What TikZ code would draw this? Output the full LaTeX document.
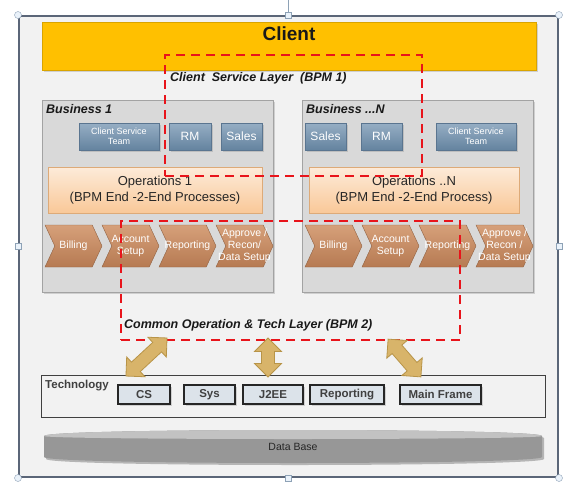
\documentclass[tikz,border=0pt]{standalone}
\usepackage{fontspec}
\setmainfont{Liberation Sans}
\usetikzlibrary{shapes.symbols,shapes.arrows,shadows}

\definecolor{rahmenblau}{HTML}{5B6678}
\definecolor{rahmenfill}{HTML}{F2F2F2}
\definecolor{clientgelb}{HTML}{FFC000}
\definecolor{clientrand}{HTML}{D9A400}
\definecolor{bizgrau}{HTML}{D9D9D9}
\definecolor{bizrand}{HTML}{A3A3A3}
\definecolor{blauoben}{HTML}{96AEC4}
\definecolor{blauunten}{HTML}{64839F}
\definecolor{blaurand}{HTML}{5A7590}
\definecolor{opsoben}{HTML}{FDEBD9}
\definecolor{opsunten}{HTML}{F9C898}
\definecolor{opsrand}{HTML}{DDAA78}
\definecolor{chevoben}{HTML}{D6A07A}
\definecolor{chevunten}{HTML}{B67A52}
\definecolor{layerrot}{HTML}{E8141B}
\definecolor{pfeilfill}{HTML}{D8B46A}
\definecolor{pfeilrand}{HTML}{B89448}
\definecolor{techitem}{HTML}{DCE3EA}
\definecolor{techtext}{HTML}{404040}
\definecolor{dbgrau}{HTML}{979797}
\definecolor{dbhell}{HTML}{C2C2C2}
\definecolor{griffrand}{HTML}{8EA2B6}
\definecolor{grifffill}{HTML}{EAF2FA}

\tikzset{
  fixbox/.style={inner sep=0pt, align=center},
  schatten/.style={drop shadow={opacity=0.3, shadow xshift=1.5pt, shadow yshift=-1.5pt}},
  rahmen/.style={fixbox, draw=rahmenblau, fill=rahmenfill, line width=2pt},
  griffkreis/.style={circle, draw=griffrand, fill=grifffill, inner sep=0pt, minimum size=7pt},
  griffquad/.style={rectangle, draw=griffrand, fill=grifffill, inner sep=0pt, minimum size=6pt},
  clientbar/.style={fixbox, draw=clientrand, fill=clientgelb, schatten},
  bizbox/.style={fixbox, draw=bizrand, fill=bizgrau, line width=1pt, schatten},
  teambox/.style={fixbox, draw=blaurand, top color=blauoben, bottom color=blauunten, text=white, minimum height=27pt, schatten},
  opsbox/.style={fixbox, draw=opsrand, top color=opsoben, bottom color=opsunten, minimum width=214pt, minimum height=46pt,
    font=\fontsize{13}{16}\selectfont, text=black!85},
  chevron/.style={signal, signal from=west, signal to=east, signal pointer angle=130, align=center,
    inner ysep=0pt, inner xsep=-10pt, draw=chevunten!80!black,
    top color=chevoben, bottom color=chevunten, text=white, minimum width=57pt, minimum height=42pt,
    font=\fontsize{10.5}{12}\selectfont},
  titel/.style={anchor=west, inner sep=0pt, font=\fontsize{12.5}{14}\selectfont\bfseries\itshape, text=black!90},
  layerbox/.style={fixbox, draw=layerrot, line width=2.2pt, dash pattern=on 9pt off 6pt},
  techbox/.style={fixbox, draw=black!75, fill=rahmenfill, line width=1pt},
  techteil/.style={fixbox, draw=black!85, fill=techitem, line width=1.2pt, minimum height=19pt,
    font=\fontsize{11.5}{13}\selectfont\bfseries, text=techtext, schatten},
  pfeil/.style={double arrow, draw=pfeilrand, fill=pfeilfill, line width=0.8pt, inner xsep=0pt, inner ysep=6pt,
    minimum width=27pt, double arrow head extend=7pt, sloped}
}

\begin{document}
\begin{tikzpicture}[x=1pt, y=-1pt]
  \useasboundingbox (0,0) rectangle (575,490);

  % Rahmen mit Anfassern
  \node[rahmen, minimum width=539pt, minimum height=461pt] (rahmen) at (288.5,246.5) {};
  \coordinate (griffoben) at (288.5,0);
  \draw[griffrand, line width=1pt] (rahmen.north) -- (griffoben);
  \node[griffkreis] (g1) at (rahmen.north west) {};
  \node[griffkreis] (g2) at (rahmen.north east) {};
  \node[griffkreis] (g3) at (rahmen.south west) {};
  \node[griffkreis] (g4) at (rahmen.south east) {};
  \node[griffquad] (g5) at (rahmen.north) {};
  \node[griffquad] (g6) at (rahmen.south) {};
  \node[griffquad] (g7) at (rahmen.west) {};
  \node[griffquad] (g8) at (rahmen.east) {};

  % Client-Balken
  \node[clientbar, minimum width=494pt, minimum height=48pt] (client) at (289,46) {};
  \node[font=\fontsize{19}{22}\selectfont\bfseries, text=black!90] (clienttext) at (289,34) {Client};

  % Business 1
  \node[bizbox, minimum width=231pt, minimum height=192pt] (biz1) at (157.5,196) {};
  \node[titel] (biz1titel) at (46,109) {Business 1};
  \node[teambox, minimum width=80pt, font=\fontsize{9}{10}\selectfont] (cst1) at (119,136.5) {Client Service\\Team};
  \node[teambox, minimum width=42pt, font=\fontsize{12}{14}\selectfont] (rm1) at (190,136.5) {RM};
  \node[teambox, minimum width=41pt, font=\fontsize{12}{14}\selectfont] (sales1) at (241.5,136.5) {Sales};
  \node[opsbox] (ops1) at (155,190) {Operations 1\\(BPM End -2-End Processes)};
  \node[chevron] (bill1) at (73.5,246) {Billing};
  \node[chevron] (acc1) at (130.5,246) {Account\\Setup};
  \node[chevron] (rep1) at (187.5,246) {Reporting};
  \node[chevron] (appr1) at (244.5,246) {Approve /\\Recon/\\Data Setup};

  % Business ...N
  \node[bizbox, minimum width=231pt, minimum height=192pt] (bizn) at (417.5,196) {};
  \node[titel] (bizntitel) at (306,109) {Business ...N};
  \node[teambox, minimum width=41pt, font=\fontsize{12}{14}\selectfont] (salesn) at (325.5,136.5) {Sales};
  \node[teambox, minimum width=41pt, font=\fontsize{12}{14}\selectfont] (rmn) at (381.5,136.5) {RM};
  \node[teambox, minimum width=80pt, font=\fontsize{9}{10}\selectfont] (cstn) at (476,136.5) {Client Service\\Team};
  \node[opsbox, minimum width=210pt] (opsn) at (414,190) {Operations ..N\\(BPM End -2-End Process)};
  \node[chevron] (billn) at (333.5,246) {Billing};
  \node[chevron] (accn) at (390.5,246) {Account\\Setup};
  \node[chevron] (repn) at (447.5,246) {Reporting};
  \node[chevron] (apprn) at (504.5,246) {Approve /\\Recon /\\Data Setup};

  % Technology
  \node[techbox, minimum width=504pt, minimum height=42pt] (tech) at (293,396) {};
  \node[anchor=west, inner sep=0pt, font=\fontsize{11.5}{13}\selectfont\bfseries, text=techtext] (techtitel) at (45,386) {Technology};
  \node[techteil, minimum width=52pt] (cs) at (144,394.5) {CS};
  \node[techteil, minimum width=51pt] (sys) at (209.5,394.5) {Sys};
  \node[techteil, minimum width=60pt] (jee) at (273,394.5) {J2EE};
  \node[techteil, minimum width=74pt] (techrep) at (347,394.5) {Reporting};
  \node[techteil, minimum width=81pt] (mainframe) at (440.5,394.5) {Main Frame};

  % Datenbank
  \fill[black, opacity=0.25] (46,438) .. controls (46,430) and (544,430) .. (544,438) -- (544,459)
    .. controls (544,467) and (46,467) .. (46,459) -- cycle;
  \fill[dbgrau] (44,436) .. controls (44,428) and (542,428) .. (542,436) -- (542,457)
    .. controls (542,465) and (44,465) .. (44,457) -- cycle;
  \fill[dbhell] (44,436) .. controls (44,428) and (542,428) .. (542,436)
    .. controls (542,440) and (44,440) .. (44,436) -- cycle;
  \node[font=\fontsize{10.5}{12}\selectfont, text=black!85] (db) at (293,447) {Data Base};

  % Rote Layer
  \node[layerbox, minimum width=257pt, minimum height=121pt] (csl) at (293.5,115.5) {};
  \node[titel] (csltitel) at (170,78) {Client\ \ Service Layer\ \ (BPM 1)};
  \node[layerbox, minimum width=339pt, minimum height=119pt] (col) at (290.5,280.5) {};
  \node[titel] (coltitel) at (124,325) {Common Operation \& Tech Layer (BPM 2)};

  % Pfeile zwischen Layer und Technology
  \coordinate (p1a) at (126,376);
  \coordinate (p1b) at (167,338);
  \coordinate (p2a) at (268,377);
  \coordinate (p2b) at (268,338);
  \coordinate (p3a) at (421,377);
  \coordinate (p3b) at (388,339);
  \path (p1a) -- node[pfeil, minimum height=56pt] (pfeil1) {} (p1b);
  \path (p2a) -- node[pfeil, minimum height=39pt] (pfeil2) {} (p2b);
  \path (p3a) -- node[pfeil, minimum height=50pt] (pfeil3) {} (p3b);
\end{tikzpicture}
\end{document}
